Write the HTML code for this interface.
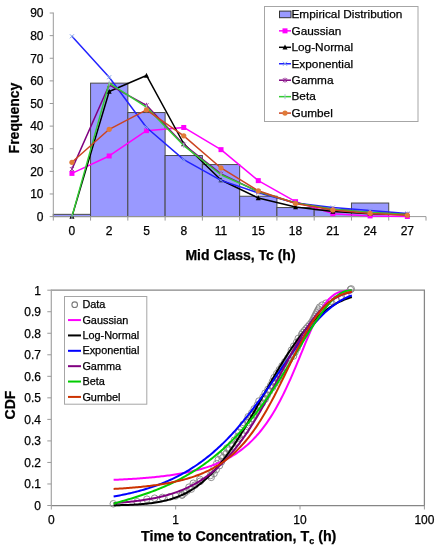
<!DOCTYPE html>
<html><head><meta charset="utf-8"><style>
html,body{margin:0;padding:0;background:#fff;}
svg{display:block;font-family:"Liberation Sans", Arial, sans-serif;}
text{stroke:#000;stroke-width:0.25px;paint-order:stroke;}
</style></head><body>
<svg width="438" height="550" viewBox="0 0 438 550">
<rect width="438" height="550" fill="#fff"/>
<g fill="#000" class="t">
<rect x="53.30" y="214.34" width="37.27" height="2.26" fill="#9999FF" stroke="#4a4a4a" stroke-width="1"/>
<rect x="90.57" y="83.14" width="37.27" height="133.46" fill="#9999FF" stroke="#4a4a4a" stroke-width="1"/>
<rect x="127.84" y="112.55" width="37.27" height="104.05" fill="#9999FF" stroke="#4a4a4a" stroke-width="1"/>
<rect x="165.11" y="155.53" width="37.27" height="61.07" fill="#9999FF" stroke="#4a4a4a" stroke-width="1"/>
<rect x="202.38" y="164.57" width="37.27" height="52.03" fill="#9999FF" stroke="#4a4a4a" stroke-width="1"/>
<rect x="239.65" y="196.24" width="37.27" height="20.36" fill="#9999FF" stroke="#4a4a4a" stroke-width="1"/>
<rect x="276.92" y="207.55" width="37.27" height="9.05" fill="#9999FF" stroke="#4a4a4a" stroke-width="1"/>
<rect x="314.19" y="209.81" width="37.27" height="6.79" fill="#9999FF" stroke="#4a4a4a" stroke-width="1"/>
<rect x="351.46" y="203.03" width="37.27" height="13.57" fill="#9999FF" stroke="#4a4a4a" stroke-width="1"/>
<line x1="53.3" y1="12.52" x2="53.3" y2="217.1" stroke="#9a9a9a" stroke-width="1"/>
<line x1="53.3" y1="216.6" x2="426.0" y2="216.6" stroke="#9a9a9a" stroke-width="1"/>
<line x1="49.699999999999996" y1="216.60" x2="53.3" y2="216.60" stroke="#9a9a9a" stroke-width="1"/>
<text x="43.5" y="220.90" text-anchor="end" font-size="12">0</text>
<line x1="49.699999999999996" y1="193.98" x2="53.3" y2="193.98" stroke="#9a9a9a" stroke-width="1"/>
<text x="43.5" y="198.28" text-anchor="end" font-size="12">10</text>
<line x1="49.699999999999996" y1="171.36" x2="53.3" y2="171.36" stroke="#9a9a9a" stroke-width="1"/>
<text x="43.5" y="175.66" text-anchor="end" font-size="12">20</text>
<line x1="49.699999999999996" y1="148.74" x2="53.3" y2="148.74" stroke="#9a9a9a" stroke-width="1"/>
<text x="43.5" y="153.04" text-anchor="end" font-size="12">30</text>
<line x1="49.699999999999996" y1="126.12" x2="53.3" y2="126.12" stroke="#9a9a9a" stroke-width="1"/>
<text x="43.5" y="130.42" text-anchor="end" font-size="12">40</text>
<line x1="49.699999999999996" y1="103.50" x2="53.3" y2="103.50" stroke="#9a9a9a" stroke-width="1"/>
<text x="43.5" y="107.80" text-anchor="end" font-size="12">50</text>
<line x1="49.699999999999996" y1="80.88" x2="53.3" y2="80.88" stroke="#9a9a9a" stroke-width="1"/>
<text x="43.5" y="85.18" text-anchor="end" font-size="12">60</text>
<line x1="49.699999999999996" y1="58.26" x2="53.3" y2="58.26" stroke="#9a9a9a" stroke-width="1"/>
<text x="43.5" y="62.56" text-anchor="end" font-size="12">70</text>
<line x1="49.699999999999996" y1="35.64" x2="53.3" y2="35.64" stroke="#9a9a9a" stroke-width="1"/>
<text x="43.5" y="39.94" text-anchor="end" font-size="12">80</text>
<line x1="49.699999999999996" y1="13.02" x2="53.3" y2="13.02" stroke="#9a9a9a" stroke-width="1"/>
<text x="43.5" y="17.32" text-anchor="end" font-size="12">90</text>
<line x1="53.30" y1="216.6" x2="53.30" y2="220.6" stroke="#9a9a9a" stroke-width="1"/>
<line x1="90.57" y1="216.6" x2="90.57" y2="220.6" stroke="#9a9a9a" stroke-width="1"/>
<line x1="127.84" y1="216.6" x2="127.84" y2="220.6" stroke="#9a9a9a" stroke-width="1"/>
<line x1="165.11" y1="216.6" x2="165.11" y2="220.6" stroke="#9a9a9a" stroke-width="1"/>
<line x1="202.38" y1="216.6" x2="202.38" y2="220.6" stroke="#9a9a9a" stroke-width="1"/>
<line x1="239.65" y1="216.6" x2="239.65" y2="220.6" stroke="#9a9a9a" stroke-width="1"/>
<line x1="276.92" y1="216.6" x2="276.92" y2="220.6" stroke="#9a9a9a" stroke-width="1"/>
<line x1="314.19" y1="216.6" x2="314.19" y2="220.6" stroke="#9a9a9a" stroke-width="1"/>
<line x1="351.46" y1="216.6" x2="351.46" y2="220.6" stroke="#9a9a9a" stroke-width="1"/>
<line x1="388.73" y1="216.6" x2="388.73" y2="220.6" stroke="#9a9a9a" stroke-width="1"/>
<line x1="426.00" y1="216.6" x2="426.00" y2="220.6" stroke="#9a9a9a" stroke-width="1"/>
<text x="71.94" y="234.6" text-anchor="middle" font-size="12">0</text>
<text x="109.20" y="234.6" text-anchor="middle" font-size="12">2</text>
<text x="146.47" y="234.6" text-anchor="middle" font-size="12">5</text>
<text x="183.75" y="234.6" text-anchor="middle" font-size="12">8</text>
<text x="221.01" y="234.6" text-anchor="middle" font-size="12">11</text>
<text x="258.28" y="234.6" text-anchor="middle" font-size="12">15</text>
<text x="295.55" y="234.6" text-anchor="middle" font-size="12">18</text>
<text x="332.82" y="234.6" text-anchor="middle" font-size="12">21</text>
<text x="370.09" y="234.6" text-anchor="middle" font-size="12">24</text>
<text x="407.36" y="234.6" text-anchor="middle" font-size="12">27</text>
<polyline points="71.94,173.40 109.20,155.98 146.47,130.64 183.75,127.48 221.01,149.64 258.28,180.63 295.55,201.67 332.82,213.66 370.09,215.92 407.36,216.49" fill="none" stroke="#FF00FF" stroke-width="1.5" stroke-linejoin="round"/>
<rect x="69.44" y="170.90" width="5.00" height="5.00" fill="#FF00FF"/>
<rect x="106.70" y="153.48" width="5.00" height="5.00" fill="#FF00FF"/>
<rect x="143.97" y="128.14" width="5.00" height="5.00" fill="#FF00FF"/>
<rect x="181.25" y="124.98" width="5.00" height="5.00" fill="#FF00FF"/>
<rect x="218.51" y="147.14" width="5.00" height="5.00" fill="#FF00FF"/>
<rect x="255.78" y="178.13" width="5.00" height="5.00" fill="#FF00FF"/>
<rect x="293.05" y="199.17" width="5.00" height="5.00" fill="#FF00FF"/>
<rect x="330.32" y="211.16" width="5.00" height="5.00" fill="#FF00FF"/>
<rect x="367.59" y="213.42" width="5.00" height="5.00" fill="#FF00FF"/>
<rect x="404.86" y="213.99" width="5.00" height="5.00" fill="#FF00FF"/>
<polyline points="71.94,216.60 109.20,91.51 146.47,75.45 183.75,143.76 221.01,179.96 258.28,198.05 295.55,207.10 332.82,211.40 370.09,213.66 407.36,214.79" fill="none" stroke="#000000" stroke-width="1.5" stroke-linejoin="round"/>
<path d="M71.94,213.85 L74.44,218.85 L69.44,218.85Z" fill="#000000"/>
<path d="M109.20,88.76 L111.70,93.76 L106.70,93.76Z" fill="#000000"/>
<path d="M146.47,72.70 L148.97,77.70 L143.97,77.70Z" fill="#000000"/>
<path d="M183.75,141.01 L186.25,146.01 L181.25,146.01Z" fill="#000000"/>
<path d="M221.01,177.21 L223.51,182.21 L218.51,182.21Z" fill="#000000"/>
<path d="M258.28,195.30 L260.78,200.30 L255.78,200.30Z" fill="#000000"/>
<path d="M295.55,204.35 L298.05,209.35 L293.05,209.35Z" fill="#000000"/>
<path d="M332.82,208.65 L335.32,213.65 L330.32,213.65Z" fill="#000000"/>
<path d="M370.09,210.91 L372.59,215.91 L367.59,215.91Z" fill="#000000"/>
<path d="M407.36,212.04 L409.86,217.04 L404.86,217.04Z" fill="#000000"/>
<polyline points="71.94,36.32 109.20,77.26 146.47,127.48 183.75,159.60 221.01,180.41 258.28,192.85 295.55,203.03 332.82,207.55 370.09,210.49 407.36,213.43" fill="none" stroke="#2222FF" stroke-width="1.5" stroke-linejoin="round"/>
<path d="M69.94,34.32L73.94,38.32M69.94,38.32L73.94,34.32" stroke="#7FA0E8" stroke-width="1" fill="none"/>
<path d="M107.20,75.26L111.20,79.26M107.20,79.26L111.20,75.26" stroke="#7FA0E8" stroke-width="1" fill="none"/>
<path d="M144.47,125.48L148.47,129.48M144.47,129.48L148.47,125.48" stroke="#7FA0E8" stroke-width="1" fill="none"/>
<path d="M181.75,157.60L185.75,161.60M181.75,161.60L185.75,157.60" stroke="#7FA0E8" stroke-width="1" fill="none"/>
<path d="M219.01,178.41L223.01,182.41M219.01,182.41L223.01,178.41" stroke="#7FA0E8" stroke-width="1" fill="none"/>
<path d="M256.28,190.85L260.28,194.85M256.28,194.85L260.28,190.85" stroke="#7FA0E8" stroke-width="1" fill="none"/>
<path d="M293.55,201.03L297.55,205.03M293.55,205.03L297.55,201.03" stroke="#7FA0E8" stroke-width="1" fill="none"/>
<path d="M330.82,205.55L334.82,209.55M330.82,209.55L334.82,205.55" stroke="#7FA0E8" stroke-width="1" fill="none"/>
<path d="M368.09,208.49L372.09,212.49M368.09,212.49L372.09,208.49" stroke="#7FA0E8" stroke-width="1" fill="none"/>
<path d="M405.36,211.43L409.36,215.43M405.36,215.43L409.36,211.43" stroke="#7FA0E8" stroke-width="1" fill="none"/>
<polyline points="71.94,169.10 109.20,84.95 146.47,105.31 183.75,144.67 221.01,173.85 258.28,191.72 295.55,203.03 332.82,209.14 370.09,212.53 407.36,214.34" fill="none" stroke="#800080" stroke-width="1.5" stroke-linejoin="round"/>
<path d="M69.94,167.10L73.94,171.10M69.94,171.10L73.94,167.10M71.94,166.60L71.94,171.60" stroke="#993399" stroke-width="1" fill="none"/>
<path d="M107.20,82.95L111.20,86.95M107.20,86.95L111.20,82.95M109.20,82.45L109.20,87.45" stroke="#993399" stroke-width="1" fill="none"/>
<path d="M144.47,103.31L148.47,107.31M144.47,107.31L148.47,103.31M146.47,102.81L146.47,107.81" stroke="#993399" stroke-width="1" fill="none"/>
<path d="M181.75,142.67L185.75,146.67M181.75,146.67L185.75,142.67M183.75,142.17L183.75,147.17" stroke="#993399" stroke-width="1" fill="none"/>
<path d="M219.01,171.85L223.01,175.85M219.01,175.85L223.01,171.85M221.01,171.35L221.01,176.35" stroke="#993399" stroke-width="1" fill="none"/>
<path d="M256.28,189.72L260.28,193.72M256.28,193.72L260.28,189.72M258.28,189.22L258.28,194.22" stroke="#993399" stroke-width="1" fill="none"/>
<path d="M293.55,201.03L297.55,205.03M293.55,205.03L297.55,201.03M295.55,200.53L295.55,205.53" stroke="#993399" stroke-width="1" fill="none"/>
<path d="M330.82,207.14L334.82,211.14M330.82,211.14L334.82,207.14M332.82,206.64L332.82,211.64" stroke="#993399" stroke-width="1" fill="none"/>
<path d="M368.09,210.53L372.09,214.53M368.09,214.53L372.09,210.53M370.09,210.03L370.09,215.03" stroke="#993399" stroke-width="1" fill="none"/>
<path d="M405.36,212.34L409.36,216.34M405.36,216.34L409.36,212.34M407.36,211.84L407.36,216.84" stroke="#993399" stroke-width="1" fill="none"/>
<polyline points="71.94,216.60 109.20,83.14 146.47,107.12 183.75,145.57 221.01,174.75 258.28,191.49 295.55,203.03 332.82,209.14 370.09,212.53 407.36,214.56" fill="none" stroke="#33CC33" stroke-width="1.5" stroke-linejoin="round"/>
<path d="M71.94,214.10L71.94,219.10" stroke="#B0BCD8" stroke-width="1" fill="none"/>
<path d="M109.20,80.64L109.20,85.64" stroke="#B0BCD8" stroke-width="1" fill="none"/>
<path d="M146.47,104.62L146.47,109.62" stroke="#B0BCD8" stroke-width="1" fill="none"/>
<path d="M183.75,143.07L183.75,148.07" stroke="#B0BCD8" stroke-width="1" fill="none"/>
<path d="M221.01,172.25L221.01,177.25" stroke="#B0BCD8" stroke-width="1" fill="none"/>
<path d="M258.28,188.99L258.28,193.99" stroke="#B0BCD8" stroke-width="1" fill="none"/>
<path d="M295.55,200.53L295.55,205.53" stroke="#B0BCD8" stroke-width="1" fill="none"/>
<path d="M332.82,206.64L332.82,211.64" stroke="#B0BCD8" stroke-width="1" fill="none"/>
<path d="M370.09,210.03L370.09,215.03" stroke="#B0BCD8" stroke-width="1" fill="none"/>
<path d="M407.36,212.06L407.36,217.06" stroke="#B0BCD8" stroke-width="1" fill="none"/>
<polyline points="71.94,162.31 109.20,129.29 146.47,109.83 183.75,135.85 221.01,167.97 258.28,190.81 295.55,203.48 332.82,210.04 370.09,213.43 407.36,215.24" fill="none" stroke="#CC4422" stroke-width="1.5" stroke-linejoin="round"/>
<circle cx="71.94" cy="162.31" r="2.60" fill="#E07B39"/>
<circle cx="109.20" cy="129.29" r="2.60" fill="#E07B39"/>
<circle cx="146.47" cy="109.83" r="2.60" fill="#E07B39"/>
<circle cx="183.75" cy="135.85" r="2.60" fill="#E07B39"/>
<circle cx="221.01" cy="167.97" r="2.60" fill="#E07B39"/>
<circle cx="258.28" cy="190.81" r="2.60" fill="#E07B39"/>
<circle cx="295.55" cy="203.48" r="2.60" fill="#E07B39"/>
<circle cx="332.82" cy="210.04" r="2.60" fill="#E07B39"/>
<circle cx="370.09" cy="213.43" r="2.60" fill="#E07B39"/>
<circle cx="407.36" cy="215.24" r="2.60" fill="#E07B39"/>
<rect x="264.5" y="6.5" width="153.5" height="115" fill="#fff" stroke="#a6a6a6" stroke-width="1"/>
<rect x="279.5" y="11.10" width="11.5" height="6.6" fill="#9999FF" stroke="#333" stroke-width="1"/>
<text x="291.5" y="18.20" font-size="11.8">Empirical Distribution</text>
<line x1="279" y1="30.85" x2="291" y2="30.85" stroke="#FF00FF" stroke-width="1.5"/>
<rect x="282.50" y="28.35" width="5.00" height="5.00" fill="#FF00FF"/>
<text x="291.5" y="34.65" font-size="11.8">Gaussian</text>
<line x1="279" y1="47.30" x2="291" y2="47.30" stroke="#000000" stroke-width="1.5"/>
<path d="M285.00,44.55 L287.50,49.55 L282.50,49.55Z" fill="#000000"/>
<text x="291.5" y="51.10" font-size="11.8">Log-Normal</text>
<line x1="279" y1="63.75" x2="291" y2="63.75" stroke="#2222FF" stroke-width="1.5"/>
<path d="M283.00,61.75L287.00,65.75M283.00,65.75L287.00,61.75" stroke="#7FA0E8" stroke-width="1" fill="none"/>
<text x="291.5" y="67.55" font-size="11.8">Exponential</text>
<line x1="279" y1="80.20" x2="291" y2="80.20" stroke="#800080" stroke-width="1.5"/>
<path d="M283.00,78.20L287.00,82.20M283.00,82.20L287.00,78.20M285.00,77.70L285.00,82.70" stroke="#993399" stroke-width="1" fill="none"/>
<text x="291.5" y="84.00" font-size="11.8">Gamma</text>
<line x1="279" y1="96.65" x2="291" y2="96.65" stroke="#33CC33" stroke-width="1.5"/>
<path d="M285.00,94.15L285.00,99.15" stroke="#B0BCD8" stroke-width="1" fill="none"/>
<text x="291.5" y="100.45" font-size="11.8">Beta</text>
<line x1="279" y1="113.10" x2="291" y2="113.10" stroke="#CC4422" stroke-width="1.5"/>
<circle cx="285.00" cy="113.10" r="2.60" fill="#E07B39"/>
<text x="291.5" y="116.90" font-size="11.8">Gumbel</text>
<text x="240.5" y="260" text-anchor="middle" font-size="14" font-weight="bold">Mid Class, Tc (h)</text>
<text transform="translate(19,118) rotate(-90)" text-anchor="middle" font-size="14" font-weight="bold">Frequency</text>
</g>
<g fill="#000" class="t">
<path d="M51.3,290.2H424.4V505.5H51.3" fill="none" stroke="#868686" stroke-width="1.25"/>
<line x1="51.3" y1="289.59999999999997" x2="51.3" y2="506.1" stroke="#a4a4a4" stroke-width="1.2"/>
<line x1="47.3" y1="505.50" x2="51.3" y2="505.50" stroke="#9a9a9a" stroke-width="1"/>
<text x="41" y="509.80" text-anchor="end" font-size="12">0</text>
<line x1="47.3" y1="483.97" x2="51.3" y2="483.97" stroke="#9a9a9a" stroke-width="1"/>
<text x="41" y="488.27" text-anchor="end" font-size="12">0.1</text>
<line x1="47.3" y1="462.44" x2="51.3" y2="462.44" stroke="#9a9a9a" stroke-width="1"/>
<text x="41" y="466.74" text-anchor="end" font-size="12">0.2</text>
<line x1="47.3" y1="440.91" x2="51.3" y2="440.91" stroke="#9a9a9a" stroke-width="1"/>
<text x="41" y="445.21" text-anchor="end" font-size="12">0.3</text>
<line x1="47.3" y1="419.38" x2="51.3" y2="419.38" stroke="#9a9a9a" stroke-width="1"/>
<text x="41" y="423.68" text-anchor="end" font-size="12">0.4</text>
<line x1="47.3" y1="397.85" x2="51.3" y2="397.85" stroke="#9a9a9a" stroke-width="1"/>
<text x="41" y="402.15" text-anchor="end" font-size="12">0.5</text>
<line x1="47.3" y1="376.32" x2="51.3" y2="376.32" stroke="#9a9a9a" stroke-width="1"/>
<text x="41" y="380.62" text-anchor="end" font-size="12">0.6</text>
<line x1="47.3" y1="354.79" x2="51.3" y2="354.79" stroke="#9a9a9a" stroke-width="1"/>
<text x="41" y="359.09" text-anchor="end" font-size="12">0.7</text>
<line x1="47.3" y1="333.26" x2="51.3" y2="333.26" stroke="#9a9a9a" stroke-width="1"/>
<text x="41" y="337.56" text-anchor="end" font-size="12">0.8</text>
<line x1="47.3" y1="311.73" x2="51.3" y2="311.73" stroke="#9a9a9a" stroke-width="1"/>
<text x="41" y="316.03" text-anchor="end" font-size="12">0.9</text>
<line x1="47.3" y1="290.20" x2="51.3" y2="290.20" stroke="#9a9a9a" stroke-width="1"/>
<text x="41" y="294.50" text-anchor="end" font-size="12">1</text>
<line x1="51.30" y1="505.5" x2="51.30" y2="509.5" stroke="#9a9a9a" stroke-width="1"/>
<text x="51.30" y="523.5" text-anchor="middle" font-size="12">0</text>
<line x1="175.67" y1="505.5" x2="175.67" y2="509.5" stroke="#9a9a9a" stroke-width="1"/>
<text x="175.67" y="523.5" text-anchor="middle" font-size="12">1</text>
<line x1="300.03" y1="505.5" x2="300.03" y2="509.5" stroke="#9a9a9a" stroke-width="1"/>
<text x="300.03" y="523.5" text-anchor="middle" font-size="12">10</text>
<line x1="424.40" y1="505.5" x2="424.40" y2="509.5" stroke="#9a9a9a" stroke-width="1"/>
<text x="424.40" y="523.5" text-anchor="middle" font-size="12">100</text>
<circle cx="113.30" cy="503.80" r="3.3" fill="none" stroke="#858585" stroke-width="0.9"/>
<circle cx="137.20" cy="501.80" r="3.3" fill="none" stroke="#858585" stroke-width="0.9"/>
<circle cx="146.90" cy="499.20" r="3.3" fill="none" stroke="#858585" stroke-width="0.9"/>
<circle cx="154.60" cy="498.20" r="3.3" fill="none" stroke="#858585" stroke-width="0.9"/>
<circle cx="162.40" cy="497.40" r="3.3" fill="none" stroke="#858585" stroke-width="0.9"/>
<circle cx="170.00" cy="496.90" r="3.3" fill="none" stroke="#858585" stroke-width="0.9"/>
<circle cx="175.60" cy="496.00" r="3.3" fill="none" stroke="#858585" stroke-width="0.9"/>
<circle cx="182.00" cy="495.00" r="3.3" fill="none" stroke="#858585" stroke-width="0.9"/>
<circle cx="350.40" cy="289.60" r="3.3" fill="none" stroke="#858585" stroke-width="0.9"/>
<circle cx="351.20" cy="288.90" r="3.3" fill="none" stroke="#858585" stroke-width="0.9"/>
<circle cx="182.00" cy="495.00" r="3.3" fill="none" stroke="#858585" stroke-width="0.9"/>
<circle cx="184.46" cy="493.04" r="3.3" fill="none" stroke="#858585" stroke-width="0.9"/>
<circle cx="186.89" cy="491.09" r="3.3" fill="none" stroke="#858585" stroke-width="0.9"/>
<circle cx="191.25" cy="489.13" r="3.3" fill="none" stroke="#858585" stroke-width="0.9"/>
<circle cx="189.03" cy="487.17" r="3.3" fill="none" stroke="#858585" stroke-width="0.9"/>
<circle cx="194.86" cy="485.21" r="3.3" fill="none" stroke="#858585" stroke-width="0.9"/>
<circle cx="193.30" cy="483.26" r="3.3" fill="none" stroke="#858585" stroke-width="0.9"/>
<circle cx="200.18" cy="481.30" r="3.3" fill="none" stroke="#858585" stroke-width="0.9"/>
<circle cx="199.80" cy="479.34" r="3.3" fill="none" stroke="#858585" stroke-width="0.9"/>
<circle cx="211.20" cy="477.38" r="3.3" fill="none" stroke="#858585" stroke-width="0.9"/>
<circle cx="210.56" cy="475.43" r="3.3" fill="none" stroke="#858585" stroke-width="0.9"/>
<circle cx="214.03" cy="473.47" r="3.3" fill="none" stroke="#858585" stroke-width="0.9"/>
<circle cx="212.31" cy="471.51" r="3.3" fill="none" stroke="#858585" stroke-width="0.9"/>
<circle cx="216.19" cy="469.56" r="3.3" fill="none" stroke="#858585" stroke-width="0.9"/>
<circle cx="214.34" cy="467.60" r="3.3" fill="none" stroke="#858585" stroke-width="0.9"/>
<circle cx="219.44" cy="465.64" r="3.3" fill="none" stroke="#858585" stroke-width="0.9"/>
<circle cx="216.67" cy="463.68" r="3.3" fill="none" stroke="#858585" stroke-width="0.9"/>
<circle cx="221.50" cy="461.73" r="3.3" fill="none" stroke="#858585" stroke-width="0.9"/>
<circle cx="218.35" cy="459.77" r="3.3" fill="none" stroke="#858585" stroke-width="0.9"/>
<circle cx="222.74" cy="457.81" r="3.3" fill="none" stroke="#858585" stroke-width="0.9"/>
<circle cx="221.04" cy="455.85" r="3.3" fill="none" stroke="#858585" stroke-width="0.9"/>
<circle cx="226.02" cy="453.90" r="3.3" fill="none" stroke="#858585" stroke-width="0.9"/>
<circle cx="224.28" cy="451.94" r="3.3" fill="none" stroke="#858585" stroke-width="0.9"/>
<circle cx="229.18" cy="449.98" r="3.3" fill="none" stroke="#858585" stroke-width="0.9"/>
<circle cx="226.96" cy="448.03" r="3.3" fill="none" stroke="#858585" stroke-width="0.9"/>
<circle cx="232.77" cy="446.07" r="3.3" fill="none" stroke="#858585" stroke-width="0.9"/>
<circle cx="231.85" cy="444.11" r="3.3" fill="none" stroke="#858585" stroke-width="0.9"/>
<circle cx="237.27" cy="442.15" r="3.3" fill="none" stroke="#858585" stroke-width="0.9"/>
<circle cx="234.45" cy="440.20" r="3.3" fill="none" stroke="#858585" stroke-width="0.9"/>
<circle cx="239.73" cy="438.24" r="3.3" fill="none" stroke="#858585" stroke-width="0.9"/>
<circle cx="238.02" cy="436.28" r="3.3" fill="none" stroke="#858585" stroke-width="0.9"/>
<circle cx="242.29" cy="434.32" r="3.3" fill="none" stroke="#858585" stroke-width="0.9"/>
<circle cx="238.91" cy="432.37" r="3.3" fill="none" stroke="#858585" stroke-width="0.9"/>
<circle cx="245.77" cy="430.41" r="3.3" fill="none" stroke="#858585" stroke-width="0.9"/>
<circle cx="241.53" cy="428.45" r="3.3" fill="none" stroke="#858585" stroke-width="0.9"/>
<circle cx="247.65" cy="426.50" r="3.3" fill="none" stroke="#858585" stroke-width="0.9"/>
<circle cx="243.19" cy="424.54" r="3.3" fill="none" stroke="#858585" stroke-width="0.9"/>
<circle cx="248.58" cy="422.58" r="3.3" fill="none" stroke="#858585" stroke-width="0.9"/>
<circle cx="246.81" cy="420.62" r="3.3" fill="none" stroke="#858585" stroke-width="0.9"/>
<circle cx="251.19" cy="418.67" r="3.3" fill="none" stroke="#858585" stroke-width="0.9"/>
<circle cx="248.25" cy="416.71" r="3.3" fill="none" stroke="#858585" stroke-width="0.9"/>
<circle cx="253.42" cy="414.75" r="3.3" fill="none" stroke="#858585" stroke-width="0.9"/>
<circle cx="251.83" cy="412.79" r="3.3" fill="none" stroke="#858585" stroke-width="0.9"/>
<circle cx="256.40" cy="410.84" r="3.3" fill="none" stroke="#858585" stroke-width="0.9"/>
<circle cx="254.20" cy="408.88" r="3.3" fill="none" stroke="#858585" stroke-width="0.9"/>
<circle cx="258.95" cy="406.92" r="3.3" fill="none" stroke="#858585" stroke-width="0.9"/>
<circle cx="257.38" cy="404.97" r="3.3" fill="none" stroke="#858585" stroke-width="0.9"/>
<circle cx="262.16" cy="403.01" r="3.3" fill="none" stroke="#858585" stroke-width="0.9"/>
<circle cx="258.99" cy="401.05" r="3.3" fill="none" stroke="#858585" stroke-width="0.9"/>
<circle cx="265.23" cy="399.09" r="3.3" fill="none" stroke="#858585" stroke-width="0.9"/>
<circle cx="263.01" cy="397.14" r="3.3" fill="none" stroke="#858585" stroke-width="0.9"/>
<circle cx="267.21" cy="395.18" r="3.3" fill="none" stroke="#858585" stroke-width="0.9"/>
<circle cx="265.08" cy="393.22" r="3.3" fill="none" stroke="#858585" stroke-width="0.9"/>
<circle cx="269.48" cy="391.26" r="3.3" fill="none" stroke="#858585" stroke-width="0.9"/>
<circle cx="268.04" cy="389.31" r="3.3" fill="none" stroke="#858585" stroke-width="0.9"/>
<circle cx="272.55" cy="387.35" r="3.3" fill="none" stroke="#858585" stroke-width="0.9"/>
<circle cx="270.70" cy="385.39" r="3.3" fill="none" stroke="#858585" stroke-width="0.9"/>
<circle cx="274.91" cy="383.44" r="3.3" fill="none" stroke="#858585" stroke-width="0.9"/>
<circle cx="272.55" cy="381.48" r="3.3" fill="none" stroke="#858585" stroke-width="0.9"/>
<circle cx="277.81" cy="379.52" r="3.3" fill="none" stroke="#858585" stroke-width="0.9"/>
<circle cx="274.16" cy="377.56" r="3.3" fill="none" stroke="#858585" stroke-width="0.9"/>
<circle cx="280.21" cy="375.61" r="3.3" fill="none" stroke="#858585" stroke-width="0.9"/>
<circle cx="276.78" cy="373.65" r="3.3" fill="none" stroke="#858585" stroke-width="0.9"/>
<circle cx="282.07" cy="371.69" r="3.3" fill="none" stroke="#858585" stroke-width="0.9"/>
<circle cx="279.35" cy="369.73" r="3.3" fill="none" stroke="#858585" stroke-width="0.9"/>
<circle cx="284.54" cy="367.78" r="3.3" fill="none" stroke="#858585" stroke-width="0.9"/>
<circle cx="282.09" cy="365.82" r="3.3" fill="none" stroke="#858585" stroke-width="0.9"/>
<circle cx="287.04" cy="363.86" r="3.3" fill="none" stroke="#858585" stroke-width="0.9"/>
<circle cx="284.89" cy="361.91" r="3.3" fill="none" stroke="#858585" stroke-width="0.9"/>
<circle cx="289.02" cy="359.95" r="3.3" fill="none" stroke="#858585" stroke-width="0.9"/>
<circle cx="287.85" cy="357.99" r="3.3" fill="none" stroke="#858585" stroke-width="0.9"/>
<circle cx="293.47" cy="356.03" r="3.3" fill="none" stroke="#858585" stroke-width="0.9"/>
<circle cx="290.29" cy="354.08" r="3.3" fill="none" stroke="#858585" stroke-width="0.9"/>
<circle cx="295.02" cy="352.12" r="3.3" fill="none" stroke="#858585" stroke-width="0.9"/>
<circle cx="291.40" cy="350.16" r="3.3" fill="none" stroke="#858585" stroke-width="0.9"/>
<circle cx="297.08" cy="348.20" r="3.3" fill="none" stroke="#858585" stroke-width="0.9"/>
<circle cx="293.76" cy="346.25" r="3.3" fill="none" stroke="#858585" stroke-width="0.9"/>
<circle cx="298.81" cy="344.29" r="3.3" fill="none" stroke="#858585" stroke-width="0.9"/>
<circle cx="296.61" cy="342.33" r="3.3" fill="none" stroke="#858585" stroke-width="0.9"/>
<circle cx="299.70" cy="340.38" r="3.3" fill="none" stroke="#858585" stroke-width="0.9"/>
<circle cx="298.32" cy="338.42" r="3.3" fill="none" stroke="#858585" stroke-width="0.9"/>
<circle cx="301.86" cy="336.46" r="3.3" fill="none" stroke="#858585" stroke-width="0.9"/>
<circle cx="301.63" cy="334.50" r="3.3" fill="none" stroke="#858585" stroke-width="0.9"/>
<circle cx="302.80" cy="332.55" r="3.3" fill="none" stroke="#858585" stroke-width="0.9"/>
<circle cx="304.50" cy="330.59" r="3.3" fill="none" stroke="#858585" stroke-width="0.9"/>
<circle cx="306.21" cy="328.63" r="3.3" fill="none" stroke="#858585" stroke-width="0.9"/>
<circle cx="307.92" cy="326.67" r="3.3" fill="none" stroke="#858585" stroke-width="0.9"/>
<circle cx="309.63" cy="324.72" r="3.3" fill="none" stroke="#858585" stroke-width="0.9"/>
<circle cx="311.34" cy="322.76" r="3.3" fill="none" stroke="#858585" stroke-width="0.9"/>
<circle cx="312.60" cy="320.80" r="3.3" fill="none" stroke="#858585" stroke-width="0.9"/>
<circle cx="313.58" cy="318.85" r="3.3" fill="none" stroke="#858585" stroke-width="0.9"/>
<circle cx="314.56" cy="316.89" r="3.3" fill="none" stroke="#858585" stroke-width="0.9"/>
<circle cx="315.53" cy="314.93" r="3.3" fill="none" stroke="#858585" stroke-width="0.9"/>
<circle cx="316.51" cy="312.97" r="3.3" fill="none" stroke="#858585" stroke-width="0.9"/>
<circle cx="317.49" cy="311.02" r="3.3" fill="none" stroke="#858585" stroke-width="0.9"/>
<circle cx="318.58" cy="309.06" r="3.3" fill="none" stroke="#858585" stroke-width="0.9"/>
<circle cx="319.67" cy="307.10" r="3.3" fill="none" stroke="#858585" stroke-width="0.9"/>
<circle cx="322.17" cy="305.14" r="3.3" fill="none" stroke="#858585" stroke-width="0.9"/>
<circle cx="326.03" cy="303.19" r="3.3" fill="none" stroke="#858585" stroke-width="0.9"/>
<circle cx="330.92" cy="301.23" r="3.3" fill="none" stroke="#858585" stroke-width="0.9"/>
<circle cx="336.04" cy="299.27" r="3.3" fill="none" stroke="#858585" stroke-width="0.9"/>
<circle cx="341.43" cy="297.32" r="3.3" fill="none" stroke="#858585" stroke-width="0.9"/>
<circle cx="346.00" cy="295.36" r="3.3" fill="none" stroke="#858585" stroke-width="0.9"/>
<polyline points="113.62,479.86 115.11,479.80 116.61,479.73 118.11,479.66 119.61,479.59 121.11,479.51 122.61,479.43 124.10,479.35 125.60,479.27 127.10,479.19 128.60,479.10 130.10,479.01 131.60,478.92 133.09,478.82 134.59,478.73 136.09,478.63 137.59,478.52 139.09,478.41 140.59,478.30 142.08,478.19 143.58,478.07 145.08,477.95 146.58,477.82 148.08,477.69 149.57,477.56 151.07,477.42 152.57,477.28 154.07,477.14 155.57,476.98 157.07,476.83 158.56,476.67 160.06,476.50 161.56,476.33 163.06,476.15 164.56,475.97 166.06,475.78 167.55,475.59 169.05,475.39 170.55,475.18 172.05,474.96 173.55,474.74 175.05,474.51 176.54,474.28 178.04,474.03 179.54,473.78 181.04,473.52 182.54,473.25 184.04,472.97 185.53,472.68 187.03,472.38 188.53,472.07 190.03,471.75 191.53,471.42 193.03,471.08 194.52,470.72 196.02,470.36 197.52,469.98 199.02,469.58 200.52,469.18 202.02,468.75 203.51,468.32 205.01,467.86 206.51,467.40 208.01,466.91 209.51,466.41 211.01,465.88 212.50,465.34 214.00,464.78 215.50,464.20 217.00,463.60 218.50,462.97 220.00,462.32 221.49,461.64 222.99,460.95 224.49,460.22 225.99,459.47 227.49,458.68 228.99,457.87 230.48,457.03 231.98,456.15 233.48,455.24 234.98,454.29 236.48,453.31 237.98,452.29 239.47,451.23 240.97,450.13 242.47,448.99 243.97,447.80 245.47,446.56 246.97,445.28 248.46,443.94 249.96,442.56 251.46,441.12 252.96,439.62 254.46,438.07 255.96,436.46 257.45,434.78 258.95,433.04 260.45,431.24 261.95,429.36 263.45,427.42 264.95,425.41 266.44,423.32 267.94,421.15 269.44,418.91 270.94,416.59 272.44,414.19 273.94,411.71 275.43,409.14 276.93,406.50 278.43,403.77 279.93,400.95 281.43,398.06 282.93,395.08 284.42,392.03 285.92,388.89 287.42,385.68 288.92,382.40 290.42,379.04 291.92,375.63 293.41,372.15 294.91,368.63 296.41,365.06 297.91,361.45 299.41,357.82 300.91,354.17 302.40,350.52 303.90,346.87 305.40,343.24 306.90,339.64 308.40,336.08 309.90,332.59 311.39,329.17 312.89,325.84 314.39,322.62 315.89,319.51 317.39,316.54 318.89,313.71 320.38,311.03 321.88,308.52 323.38,306.19 324.88,304.03 326.38,302.05 327.88,300.26 329.37,298.65 330.87,297.23 332.37,295.97 333.87,294.88 335.37,293.95 336.87,293.16 338.36,292.50 339.86,291.96 341.36,291.52 342.86,291.18 344.36,290.91 345.86,290.70 347.35,290.55 348.85,290.44 350.35,290.36 351.85,290.30" fill="none" stroke="#FF00FF" stroke-width="2" stroke-linejoin="round"/>
<polyline points="113.62,505.27 115.11,505.25 116.61,505.22 118.11,505.19 119.61,505.16 121.11,505.12 122.61,505.08 124.10,505.04 125.60,504.99 127.10,504.94 128.60,504.88 130.10,504.82 131.60,504.75 133.09,504.68 134.59,504.60 136.09,504.51 137.59,504.42 139.09,504.32 140.59,504.21 142.08,504.09 143.58,503.97 145.08,503.83 146.58,503.68 148.08,503.52 149.57,503.35 151.07,503.17 152.57,502.97 154.07,502.76 155.57,502.53 157.07,502.29 158.56,502.03 160.06,501.75 161.56,501.45 163.06,501.13 164.56,500.79 166.06,500.43 167.55,500.05 169.05,499.65 170.55,499.21 172.05,498.76 173.55,498.27 175.05,497.76 176.54,497.22 178.04,496.64 179.54,496.04 181.04,495.40 182.54,494.73 184.04,494.02 185.53,493.28 187.03,492.50 188.53,491.68 190.03,490.82 191.53,489.92 193.03,488.98 194.52,487.99 196.02,486.97 197.52,485.90 199.02,484.78 200.52,483.62 202.02,482.41 203.51,481.15 205.01,479.84 206.51,478.49 208.01,477.08 209.51,475.63 211.01,474.13 212.50,472.58 214.00,470.97 215.50,469.32 217.00,467.62 218.50,465.87 220.00,464.06 221.49,462.21 222.99,460.31 224.49,458.36 225.99,456.37 227.49,454.32 228.99,452.24 230.48,450.10 231.98,447.93 233.48,445.71 234.98,443.45 236.48,441.15 237.98,438.81 239.47,436.44 240.97,434.03 242.47,431.59 243.97,429.12 245.47,426.62 246.97,424.09 248.46,421.54 249.96,418.96 251.46,416.37 252.96,413.76 254.46,411.13 255.96,408.49 257.45,405.84 258.95,403.19 260.45,400.53 261.95,397.86 263.45,395.20 264.95,392.53 266.44,389.88 267.94,387.23 269.44,384.59 270.94,381.96 272.44,379.35 273.94,376.76 275.43,374.18 276.93,371.63 278.43,369.11 279.93,366.60 281.43,364.13 282.93,361.69 284.42,359.28 285.92,356.91 287.42,354.57 288.92,352.27 290.42,350.01 291.92,347.79 293.41,345.61 294.91,343.48 296.41,341.39 297.91,339.35 299.41,337.35 300.91,335.40 302.40,333.50 303.90,331.65 305.40,329.85 306.90,328.10 308.40,326.39 309.90,324.74 311.39,323.14 312.89,321.58 314.39,320.08 315.89,318.63 317.39,317.22 318.89,315.87 320.38,314.56 321.88,313.30 323.38,312.09 324.88,310.93 326.38,309.81 327.88,308.74 329.37,307.71 330.87,306.73 332.37,305.79 333.87,304.89 335.37,304.03 336.87,303.21 338.36,302.43 339.86,301.69 341.36,300.98 342.86,300.31 344.36,299.67 345.86,299.06 347.35,298.49 348.85,297.95 350.35,297.43 351.85,296.95" fill="none" stroke="#000000" stroke-width="2" stroke-linejoin="round"/>
<polyline points="113.62,496.51 115.11,496.25 116.61,495.98 118.11,495.70 119.61,495.42 121.11,495.12 122.61,494.82 124.10,494.52 125.60,494.20 127.10,493.88 128.60,493.54 130.10,493.20 131.60,492.85 133.09,492.49 134.59,492.12 136.09,491.74 137.59,491.35 139.09,490.95 140.59,490.55 142.08,490.13 143.58,489.69 145.08,489.25 146.58,488.80 148.08,488.33 149.57,487.86 151.07,487.37 152.57,486.86 154.07,486.35 155.57,485.82 157.07,485.28 158.56,484.73 160.06,484.16 161.56,483.57 163.06,482.98 164.56,482.36 166.06,481.74 167.55,481.09 169.05,480.43 170.55,479.76 172.05,479.07 173.55,478.36 175.05,477.63 176.54,476.89 178.04,476.13 179.54,475.35 181.04,474.55 182.54,473.73 184.04,472.90 185.53,472.04 187.03,471.17 188.53,470.27 190.03,469.35 191.53,468.42 193.03,467.46 194.52,466.48 196.02,465.48 197.52,464.45 199.02,463.41 200.52,462.34 202.02,461.25 203.51,460.13 205.01,458.99 206.51,457.82 208.01,456.64 209.51,455.42 211.01,454.19 212.50,452.92 214.00,451.63 215.50,450.32 217.00,448.98 218.50,447.61 220.00,446.22 221.49,444.80 222.99,443.36 224.49,441.89 225.99,440.39 227.49,438.86 228.99,437.31 230.48,435.73 231.98,434.13 233.48,432.50 234.98,430.84 236.48,429.15 237.98,427.44 239.47,425.70 240.97,423.94 242.47,422.15 243.97,420.34 245.47,418.50 246.97,416.63 248.46,414.75 249.96,412.83 251.46,410.90 252.96,408.94 254.46,406.96 255.96,404.96 257.45,402.94 258.95,400.90 260.45,398.84 261.95,396.76 263.45,394.66 264.95,392.55 266.44,390.43 267.94,388.29 269.44,386.13 270.94,383.97 272.44,381.80 273.94,379.61 275.43,377.42 276.93,375.23 278.43,373.03 279.93,370.83 281.43,368.62 282.93,366.42 284.42,364.22 285.92,362.03 287.42,359.84 288.92,357.66 290.42,355.49 291.92,353.33 293.41,351.18 294.91,349.05 296.41,346.94 297.91,344.84 299.41,342.77 300.91,340.72 302.40,338.70 303.90,336.71 305.40,334.74 306.90,332.81 308.40,330.91 309.90,329.04 311.39,327.21 312.89,325.42 314.39,323.67 315.89,321.96 317.39,320.29 318.89,318.67 320.38,317.09 321.88,315.56 323.38,314.08 324.88,312.65 326.38,311.26 327.88,309.93 329.37,308.64 330.87,307.41 332.37,306.23 333.87,305.10 335.37,304.02 336.87,302.99 338.36,302.01 339.86,301.09 341.36,300.21 342.86,299.38 344.36,298.60 345.86,297.87 347.35,297.18 348.85,296.54 350.35,295.94 351.85,295.38" fill="none" stroke="#0000FF" stroke-width="2" stroke-linejoin="round"/>
<polyline points="113.62,503.15 115.11,503.04 116.61,502.94 118.11,502.83 119.61,502.71 121.11,502.59 122.61,502.46 124.10,502.33 125.60,502.20 127.10,502.06 128.60,501.91 130.10,501.75 131.60,501.59 133.09,501.43 134.59,501.25 136.09,501.07 137.59,500.88 139.09,500.68 140.59,500.48 142.08,500.26 143.58,500.04 145.08,499.81 146.58,499.57 148.08,499.32 149.57,499.06 151.07,498.79 152.57,498.51 154.07,498.21 155.57,497.91 157.07,497.59 158.56,497.26 160.06,496.91 161.56,496.56 163.06,496.19 164.56,495.80 166.06,495.40 167.55,494.98 169.05,494.55 170.55,494.10 172.05,493.63 173.55,493.15 175.05,492.64 176.54,492.12 178.04,491.58 179.54,491.01 181.04,490.43 182.54,489.82 184.04,489.20 185.53,488.54 187.03,487.87 188.53,487.17 190.03,486.44 191.53,485.69 193.03,484.91 194.52,484.10 196.02,483.27 197.52,482.40 199.02,481.51 200.52,480.58 202.02,479.63 203.51,478.64 205.01,477.62 206.51,476.56 208.01,475.47 209.51,474.34 211.01,473.18 212.50,471.98 214.00,470.74 215.50,469.46 217.00,468.14 218.50,466.79 220.00,465.39 221.49,463.95 222.99,462.47 224.49,460.94 225.99,459.37 227.49,457.76 228.99,456.11 230.48,454.41 231.98,452.66 233.48,450.87 234.98,449.03 236.48,447.15 237.98,445.22 239.47,443.24 240.97,441.22 242.47,439.16 243.97,437.04 245.47,434.89 246.97,432.68 248.46,430.44 249.96,428.14 251.46,425.81 252.96,423.43 254.46,421.02 255.96,418.56 257.45,416.06 258.95,413.53 260.45,410.96 261.95,408.35 263.45,405.72 264.95,403.05 266.44,400.35 267.94,397.63 269.44,394.88 270.94,392.12 272.44,389.33 273.94,386.53 275.43,383.71 276.93,380.89 278.43,378.05 279.93,375.22 281.43,372.38 282.93,369.55 284.42,366.72 285.92,363.91 287.42,361.11 288.92,358.33 290.42,355.56 291.92,352.83 293.41,350.12 294.91,347.45 296.41,344.81 297.91,342.21 299.41,339.66 300.91,337.16 302.40,334.70 303.90,332.31 305.40,329.96 306.90,327.68 308.40,325.47 309.90,323.31 311.39,321.23 312.89,319.22 314.39,317.28 315.89,315.41 317.39,313.62 318.89,311.90 320.38,310.27 321.88,308.71 323.38,307.22 324.88,305.82 326.38,304.49 327.88,303.24 329.37,302.06 330.87,300.96 332.37,299.93 333.87,298.97 335.37,298.08 336.87,297.26 338.36,296.50 339.86,295.81 341.36,295.17 342.86,294.59 344.36,294.06 345.86,293.58 347.35,293.15 348.85,292.76 350.35,292.42 351.85,292.11" fill="none" stroke="#800080" stroke-width="2" stroke-linejoin="round"/>
<polyline points="113.62,503.71 115.11,503.26 116.61,502.82 118.11,502.38 119.61,501.95 121.11,501.52 122.61,501.08 124.10,500.65 125.60,500.21 127.10,499.77 128.60,499.33 130.10,498.88 131.60,498.42 133.09,497.96 134.59,497.50 136.09,497.03 137.59,496.55 139.09,496.07 140.59,495.57 142.08,495.07 143.58,494.57 145.08,494.05 146.58,493.53 148.08,493.00 149.57,492.46 151.07,491.91 152.57,491.35 154.07,490.78 155.57,490.20 157.07,489.61 158.56,489.01 160.06,488.40 161.56,487.78 163.06,487.14 164.56,486.50 166.06,485.84 167.55,485.17 169.05,484.49 170.55,483.80 172.05,483.09 173.55,482.37 175.05,481.64 176.54,480.89 178.04,480.13 179.54,479.35 181.04,478.56 182.54,477.75 184.04,476.93 185.53,476.09 187.03,475.24 188.53,474.37 190.03,473.48 191.53,472.58 193.03,471.66 194.52,470.72 196.02,469.77 197.52,468.79 199.02,467.80 200.52,466.79 202.02,465.76 203.51,464.71 205.01,463.64 206.51,462.55 208.01,461.44 209.51,460.30 211.01,459.15 212.50,457.98 214.00,456.78 215.50,455.56 217.00,454.32 218.50,453.06 220.00,451.77 221.49,450.46 222.99,449.13 224.49,447.77 225.99,446.39 227.49,444.98 228.99,443.55 230.48,442.09 231.98,440.61 233.48,439.10 234.98,437.57 236.48,436.01 237.98,434.42 239.47,432.81 240.97,431.17 242.47,429.50 243.97,427.81 245.47,426.09 246.97,424.34 248.46,422.56 249.96,420.76 251.46,418.93 252.96,417.07 254.46,415.18 255.96,413.27 257.45,411.33 258.95,409.36 260.45,407.36 261.95,405.34 263.45,403.29 264.95,401.21 266.44,399.10 267.94,396.98 269.44,394.82 270.94,392.64 272.44,390.43 273.94,388.21 275.43,385.95 276.93,383.68 278.43,381.38 279.93,379.06 281.43,376.73 282.93,374.37 284.42,372.00 285.92,369.61 287.42,367.20 288.92,364.78 290.42,362.35 291.92,359.91 293.41,357.46 294.91,355.00 296.41,352.54 297.91,350.07 299.41,347.61 300.91,345.14 302.40,342.69 303.90,340.24 305.40,337.80 306.90,335.37 308.40,332.96 309.90,330.57 311.39,328.21 312.89,325.87 314.39,323.56 315.89,321.29 317.39,319.06 318.89,316.87 320.38,314.74 321.88,312.65 323.38,310.63 324.88,308.67 326.38,306.78 327.88,304.97 329.37,303.23 330.87,301.58 332.37,300.03 333.87,298.57 335.37,297.21 336.87,295.97 338.36,294.83 339.86,293.82 341.36,292.92 342.86,292.16 344.36,291.52 345.86,291.01 347.35,290.63 348.85,290.38 350.35,290.24 351.85,290.20" fill="none" stroke="#00CC00" stroke-width="2" stroke-linejoin="round"/>
<polyline points="113.62,488.93 115.11,488.85 116.61,488.76 118.11,488.67 119.61,488.57 121.11,488.48 122.61,488.38 124.10,488.27 125.60,488.17 127.10,488.06 128.60,487.94 130.10,487.83 131.60,487.70 133.09,487.58 134.59,487.45 136.09,487.32 137.59,487.18 139.09,487.04 140.59,486.89 142.08,486.74 143.58,486.58 145.08,486.42 146.58,486.25 148.08,486.08 149.57,485.90 151.07,485.71 152.57,485.52 154.07,485.33 155.57,485.12 157.07,484.91 158.56,484.69 160.06,484.47 161.56,484.23 163.06,483.99 164.56,483.74 166.06,483.48 167.55,483.21 169.05,482.93 170.55,482.65 172.05,482.35 173.55,482.04 175.05,481.72 176.54,481.39 178.04,481.05 179.54,480.69 181.04,480.32 182.54,479.94 184.04,479.55 185.53,479.14 187.03,478.71 188.53,478.27 190.03,477.82 191.53,477.34 193.03,476.85 194.52,476.34 196.02,475.81 197.52,475.27 199.02,474.70 200.52,474.11 202.02,473.49 203.51,472.86 205.01,472.20 206.51,471.52 208.01,470.80 209.51,470.07 211.01,469.30 212.50,468.51 214.00,467.68 215.50,466.83 217.00,465.94 218.50,465.02 220.00,464.06 221.49,463.07 222.99,462.04 224.49,460.98 225.99,459.87 227.49,458.72 228.99,457.53 230.48,456.29 231.98,455.01 233.48,453.68 234.98,452.31 236.48,450.89 237.98,449.41 239.47,447.88 240.97,446.30 242.47,444.67 243.97,442.98 245.47,441.23 246.97,439.43 248.46,437.56 249.96,435.64 251.46,433.66 252.96,431.61 254.46,429.51 255.96,427.34 257.45,425.11 258.95,422.82 260.45,420.47 261.95,418.06 263.45,415.58 264.95,413.05 266.44,410.46 267.94,407.81 269.44,405.11 270.94,402.36 272.44,399.55 273.94,396.70 275.43,393.80 276.93,390.87 278.43,387.89 279.93,384.88 281.43,381.85 282.93,378.79 284.42,375.71 285.92,372.61 287.42,369.51 288.92,366.40 290.42,363.30 291.92,360.21 293.41,357.13 294.91,354.08 296.41,351.05 297.91,348.06 299.41,345.11 300.91,342.20 302.40,339.35 303.90,336.56 305.40,333.83 306.90,331.17 308.40,328.58 309.90,326.08 311.39,323.66 312.89,321.32 314.39,319.08 315.89,316.93 317.39,314.87 318.89,312.91 320.38,311.05 321.88,309.29 323.38,307.62 324.88,306.06 326.38,304.59 327.88,303.22 329.37,301.94 330.87,300.75 332.37,299.65 333.87,298.64 335.37,297.71 336.87,296.86 338.36,296.08 339.86,295.37 341.36,294.74 342.86,294.16 344.36,293.65 345.86,293.19 347.35,292.78 348.85,292.41 350.35,292.09 351.85,291.81" fill="none" stroke="#CC3300" stroke-width="2" stroke-linejoin="round"/>
<rect x="64.5" y="296.5" width="82.3" height="107.7" fill="#fff" stroke="#a6a6a6" stroke-width="1"/>
<circle cx="74.70" cy="304.70" r="2.8" fill="none" stroke="#7a7a7a" stroke-width="1.1"/>
<text x="82.4" y="308.30" font-size="10.9">Data</text>
<line x1="68" y1="320.07" x2="81" y2="320.07" stroke="#FF00FF" stroke-width="2"/>
<text x="82.4" y="323.67" font-size="10.9">Gaussian</text>
<line x1="68" y1="335.44" x2="81" y2="335.44" stroke="#000000" stroke-width="2"/>
<text x="82.4" y="339.04" font-size="10.9">Log-Normal</text>
<line x1="68" y1="350.81" x2="81" y2="350.81" stroke="#0000FF" stroke-width="2"/>
<text x="82.4" y="354.41" font-size="10.9">Exponential</text>
<line x1="68" y1="366.18" x2="81" y2="366.18" stroke="#800080" stroke-width="2"/>
<text x="82.4" y="369.78" font-size="10.9">Gamma</text>
<line x1="68" y1="381.55" x2="81" y2="381.55" stroke="#00CC00" stroke-width="2"/>
<text x="82.4" y="385.15" font-size="10.9">Beta</text>
<line x1="68" y1="396.92" x2="81" y2="396.92" stroke="#CC3300" stroke-width="2"/>
<text x="82.4" y="400.52" font-size="10.9">Gumbel</text>
<text x="141" y="541" font-size="14.3" font-weight="bold">Time to Concentration, T<tspan font-size="9" dy="3">c</tspan><tspan dy="-3"> (h)</tspan></text>
<text transform="translate(15,405) rotate(-90)" text-anchor="middle" font-size="14" font-weight="bold">CDF</text>
</g>
</svg>
</body></html>
